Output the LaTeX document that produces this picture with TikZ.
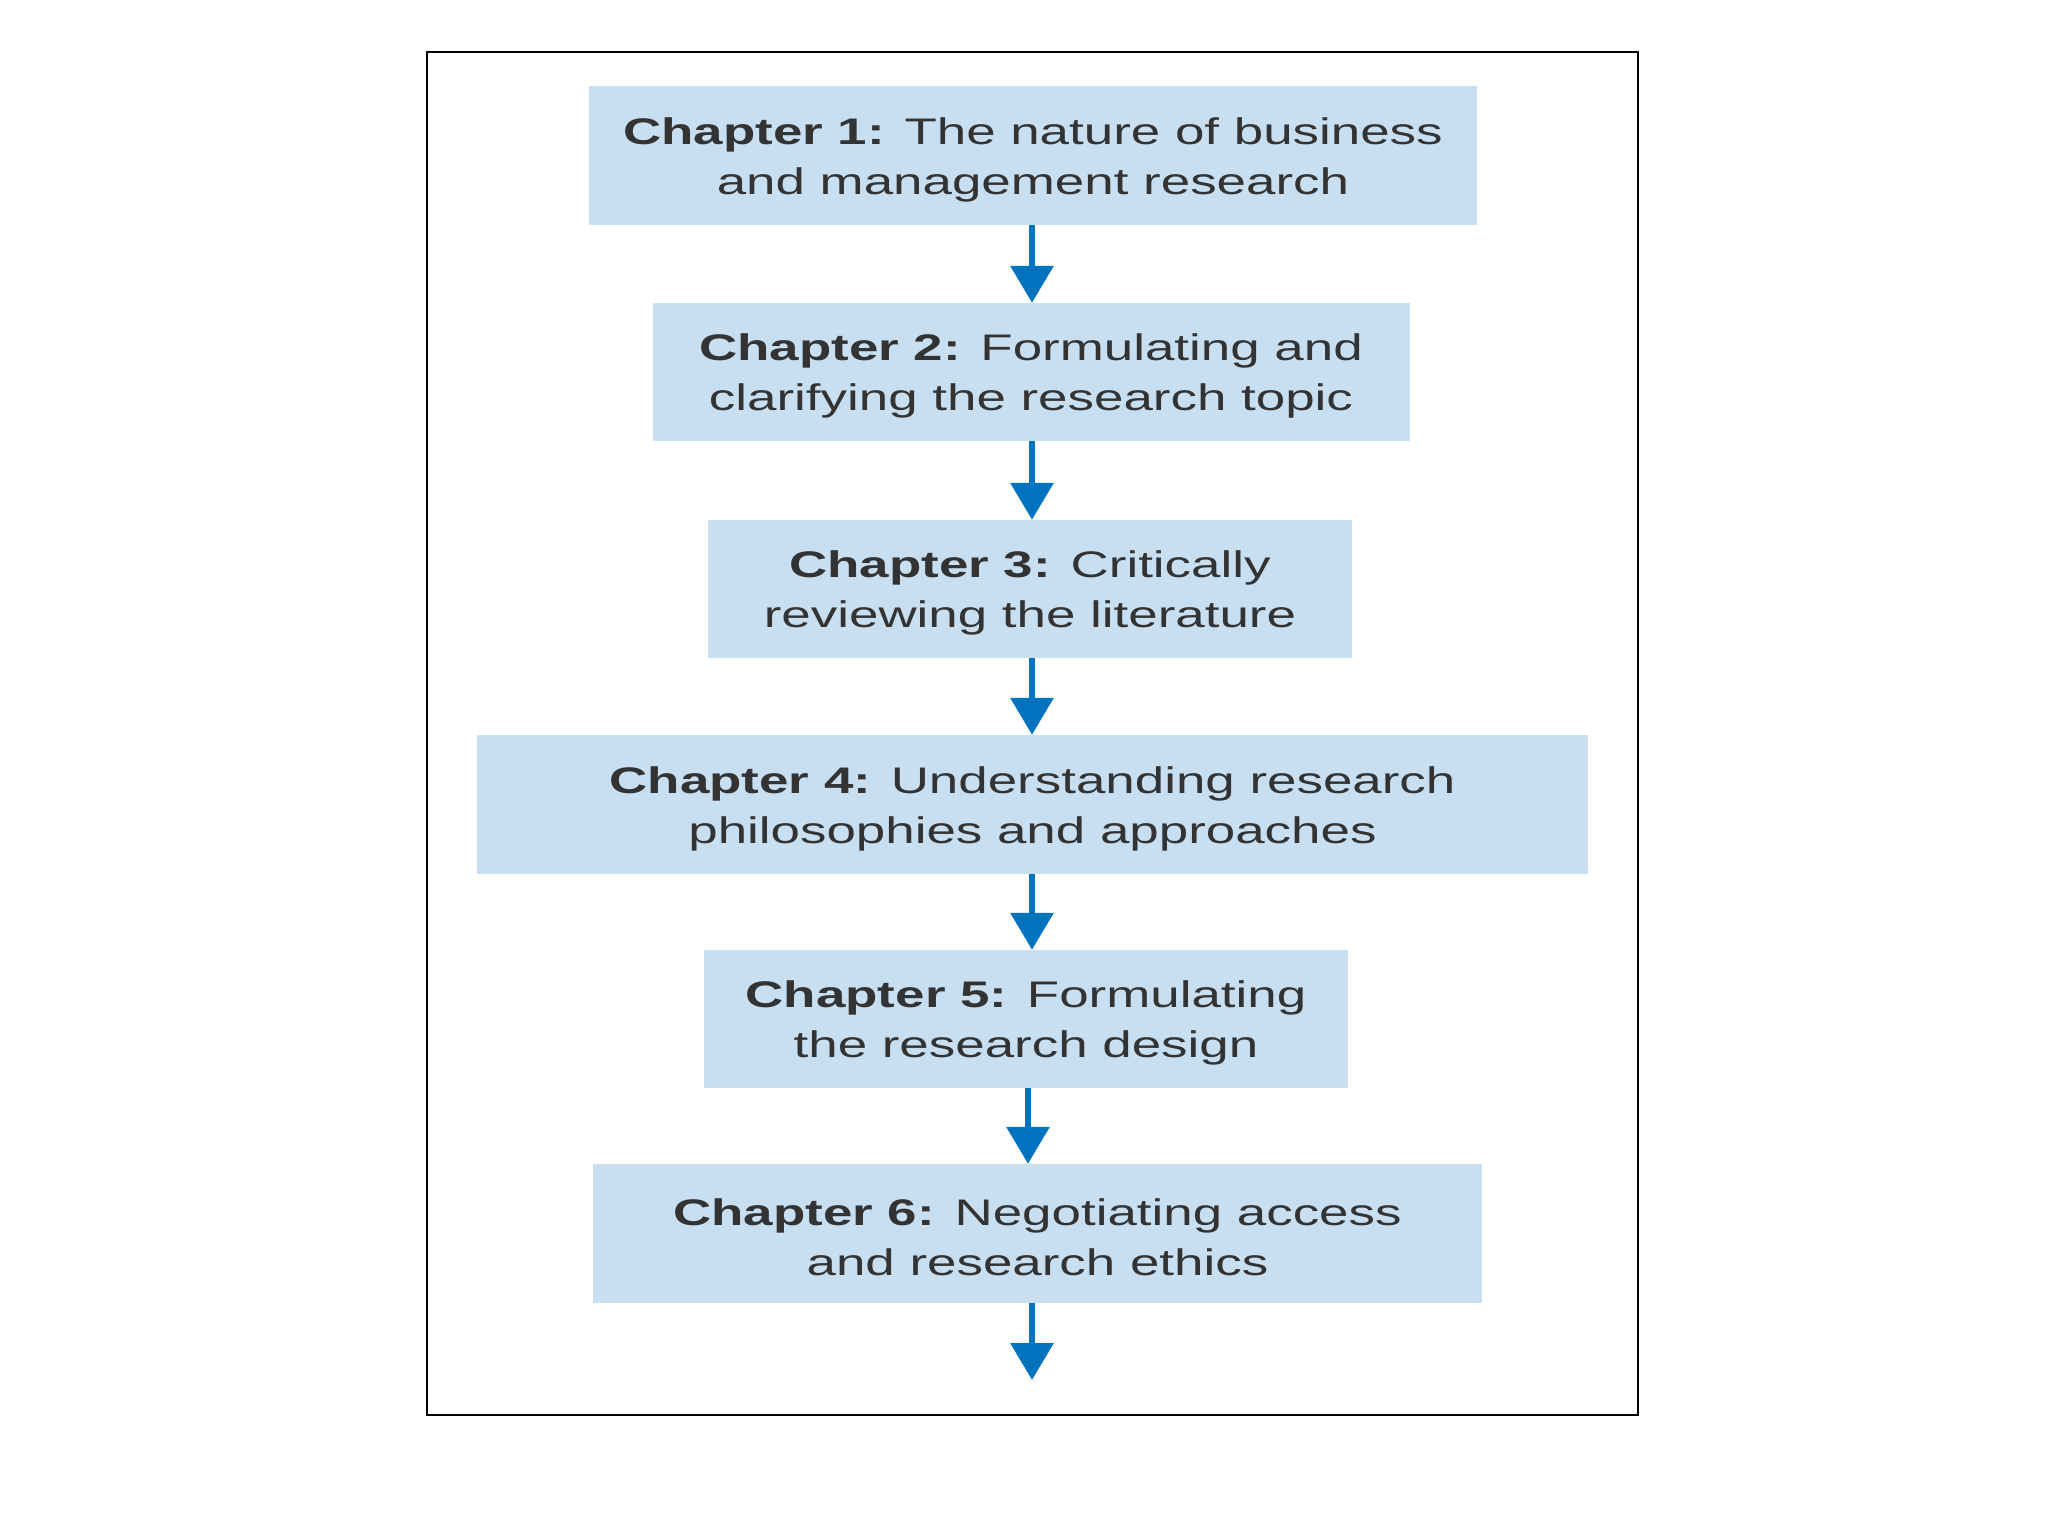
\documentclass[tikz,border=0pt]{standalone}
\usepackage{fontspec}
\usetikzlibrary{arrows.meta}
\newfontfamily\chfont[FakeStretch=1.43]{Liberation Sans}
\definecolor{boxblue}{HTML}{C8DFF2}
\definecolor{arrblue}{HTML}{0073BF}
\definecolor{txtgray}{HTML}{333333}
\tikzset{
  chapbox/.style={fill=boxblue, draw=none, inner sep=0pt},
  chaptext/.style={inner sep=0pt, align=center, yshift=-4pt,
    text=txtgray, font=\chfont\fontsize{37}{50}\selectfont},
  flowarrow/.style={draw=arrblue, line width=6.5pt,
    -{Triangle[width=42pt,length=37pt]}, arrblue},
  frame/.style={draw=black, line width=2pt}
}
\begin{document}
\begin{tikzpicture}[x=1pt,y=-1pt]
\useasboundingbox (0,0) rectangle (2048,1536);
\fill[white] (0,0) rectangle (2048,1536);
\node[frame, minimum width=1211pt, minimum height=1363pt, inner sep=0pt] (outer) at (1032.5,733.5) {};
\node[chapbox, minimum width=888pt, minimum height=139pt] (b1) at (1033,155.5) {};
\node[chaptext] (t1) at (b1.center) {\textbf{Chapter 1:} The nature of business\\and management research};
\node[chapbox, minimum width=757pt, minimum height=138pt] (b2) at (1031,372) {};
\node[chaptext] (t2) at (b2.center) {\textbf{Chapter 2:} Formulating and\\clarifying the research topic};
\node[chapbox, minimum width=644pt, minimum height=138pt] (b3) at (1030,589) {};
\node[chaptext] (t3) at (b3.center) {\textbf{Chapter 3:} Critically\\reviewing the literature};
\node[chapbox, minimum width=1111pt, minimum height=139pt] (b4) at (1032.5,804.5) {};
\node[chaptext] (t4) at (b4.center) {\textbf{Chapter 4:} Understanding research\\philosophies and approaches};
\node[chapbox, minimum width=644pt, minimum height=138pt] (b5) at (1026,1019) {};
\node[chaptext] (t5) at (b5.center) {\textbf{Chapter 5:} Formulating\\the research design};
\node[chapbox, minimum width=889pt, minimum height=139pt] (b6) at (1037.5,1233.5) {};
\node[chaptext] (t6) at (b6.center) {\textbf{Chapter 6:} Negotiating access\\and research ethics};
\coordinate (end) at (1032,1380);
\draw[flowarrow] (b1.south -| 1032,0) -- (b2.north -| 1032,0);
\draw[flowarrow] (b2.south -| 1032,0) -- (b3.north -| 1032,0);
\draw[flowarrow] (b3.south -| 1032,0) -- (b4.north -| 1032,0);
\draw[flowarrow] (b4.south -| 1032,0) -- (b5.north -| 1032,0);
\draw[flowarrow] (b5.south -| 1028,0) -- (b6.north -| 1028,0);
\draw[flowarrow] (b6.south -| 1032,0) -- (end);
\end{tikzpicture}
\end{document}
